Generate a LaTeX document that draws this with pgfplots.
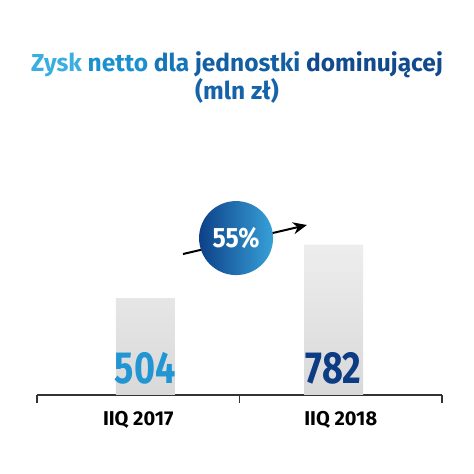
\documentclass[border=0pt]{standalone}
\usepackage{pgfplots}
\pgfplotsset{compat=1.18}
\usepackage{fontspec}
\setmainfont{Fira Sans}
\usepackage{graphicx}
\usetikzlibrary{arrows.meta}

\definecolor{lightblue}{HTML}{2196D3}
\definecolor{navy}{HTML}{0C3C84}
\definecolor{axisgray}{HTML}{333333}
\definecolor{t1}{HTML}{3AAEE0}
\definecolor{t2}{HTML}{1A90CF}
\definecolor{t3}{HTML}{1575B9}
\definecolor{t4}{HTML}{135FA3}
\definecolor{t5}{HTML}{114A8E}
\definecolor{t6}{HTML}{1663AA}

\begin{document}
\begin{tikzpicture}
\useasboundingbox (0,0) rectangle (474bp,474bp);

% title
\node[font=\bfseries\fontsize{24.5bp}{28bp}\selectfont, anchor=base] at (237bp,402bp)
  {\textcolor{t1}{Zysk} \textcolor{t2}{netto} \textcolor{t3}{dla} \textcolor{t4}{jednostki} \textcolor{t5}{dominującej}};
\node[font=\bfseries\fontsize{24.5bp}{28bp}\selectfont, anchor=base, text=t6] at (237bp,374bp) {(mln zł)};

\begin{axis}[
    at={(37bp,79bp)}, anchor=south west,
    scale only axis,
    width=405bp, height=200bp,
    xmin=-0.5, xmax=1.5,
    ymin=0, ymax=1040,
    enlargelimits=false,
    axis x line=bottom, axis y line=none,
    x axis line style={-, draw=axisgray, line width=1.3bp},
    xtick={0,1},
    xticklabels={IIQ 2017, IIQ 2018},
    major tick length=0pt,
    tick align=outside,
    extra x ticks={-0.5,0.5,1.5},
    extra x tick labels={},
    extra x tick style={major tick length=8bp, tick style={draw=axisgray, line width=1.3bp}},
    xticklabel style={font=\bfseries\fontsize{20bp}{23bp}\selectfont, text=black, yshift=-13bp},
    clip=false,
]
\addplot[ybar, bar width=59bp, draw=none, top color=black!7, bottom color=black!15]
  coordinates {(0.035,504) (0.965,782)};

% value labels
\node[anchor=base, text=lightblue, font=\bfseries\fontsize{45bp}{50bp}\selectfont]
  at (axis cs:0.035,0) [yshift=12bp] {\scalebox{0.8}[1]{504}};
\node[anchor=base, text=navy, font=\bfseries\fontsize{45bp}{50bp}\selectfont]
  at (axis cs:0.965,0) [yshift=12bp] {\scalebox{0.8}[1]{782}};

% growth arrow and badge
\draw[line width=2bp, black, -{Stealth[length=14bp,width=12bp]}]
  (axis cs:0.221,733) -- (axis cs:0.833,884);
\node[circle, minimum size=74bp, inner sep=0pt, left color=navy!95!lightblue, right color=lightblue!90!white,
      text=white, font=\bfseries\fontsize{28bp}{30bp}\selectfont]
  at (axis cs:0.483,816) {\scalebox{0.88}[1]{55\%}};
\end{axis}
\end{tikzpicture}
\end{document}
